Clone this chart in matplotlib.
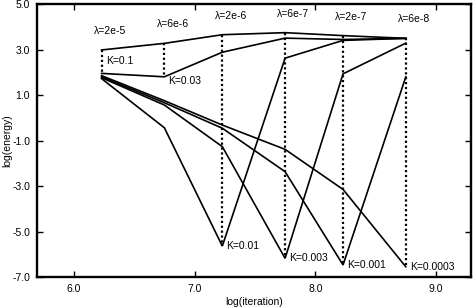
import matplotlib
matplotlib.use('Agg')
import matplotlib.pyplot as plt

# ---- data ----
log_iter = [6.23, 6.75, 7.23, 7.75, 8.23, 8.75]
lambdas = ['2e-5', '6e-6', '2e-6', '6e-7', '2e-7', '6e-8']
k_values = ['0.1', '0.03', '0.01', '0.003', '0.001', '0.0003']
energy_k0_1 = [2.98, 3.27, 3.65, 3.74, 3.61, 3.49]
energy_k0_03 = [1.95, 1.80, 2.88, 3.50, 3.44, 3.49]
energy_k0_01 = [1.72, -0.44, -5.64, 2.62, 3.40, 3.49]
energy_k0_003 = [1.76, 0.56, -1.27, -6.18, 1.93, 3.28]
energy_k0_001 = [1.80, 0.66, -0.46, -2.37, -6.47, 1.80]
energy_k0_0003 = [1.85, 0.75, -0.32, -1.39, -3.15, -6.55]
xticks = [6.0, 7.0, 8.0, 9.0]
yticks = [-7.0, -5.0, -3.0, -1.0, 1.0, 3.0, 5.0]

series = [energy_k0_1, energy_k0_03, energy_k0_01,
          energy_k0_003, energy_k0_001, energy_k0_0003]

plt.rcParams['font.family'] = ['Liberation Sans', 'DejaVu Sans']
plt.rcParams['axes.unicode_minus'] = False

fig = plt.figure(figsize=(4.74, 3.08), dpi=100)
ax = fig.add_axes([37/474, 1-277/308, 434/474, 273/308])

for s in series:
    ax.plot(log_iter, s, color='black', lw=1.2, solid_joinstyle='miter')

# dotted verticals: from the top curve down to the minimum of curve K_i
top = energy_k0_1
bottoms = [energy_k0_03[0]] + [series[i][i] for i in range(1, 6)]
for i in range(6):
    ax.plot([log_iter[i], log_iter[i]], [top[i], bottoms[i]],
            color='black', lw=1.6, ls=(0, (1, 1.2)))
    ax.annotate('\u03bb=' + lambdas[i], (log_iter[i], top[i]),
                xytext=(6, 10), textcoords='offset points',
                ha='center', va='bottom', fontsize=7.5)

# K labels
for i in range(6):
    if i == 0:
        y = (top[0] + bottoms[0]) / 2 + 0.05
        dy = 0
    else:
        y = bottoms[i]
        dy = -3 if i == 1 else 0
    ax.annotate('K=' + k_values[i], (log_iter[i], y), xytext=(3, dy),
                textcoords='offset points', ha='left', va='center', fontsize=7.5)

ax.set_xlim(5.695, 9.29)
ax.set_ylim(-7.0, 5.0)
ax.set_xticks(xticks)
ax.set_yticks(yticks)
ax.set_xticklabels(['%.1f' % v for v in xticks])
ax.set_yticklabels(['%.1f' % v for v in yticks])
ax.tick_params(direction='in', length=4, width=1, top=True, right=True,
               labelsize=7.5, pad=5)
for sp in ax.spines.values():
    sp.set_linewidth(1.7)

ax.set_xlabel('log(iteration)', fontsize=7.5)
ax.xaxis.set_label_coords(0.5, -0.072)
ax.set_ylabel('log(energy)', fontsize=7.5)
ax.yaxis.set_label_coords(-0.056, 0.5)

fig.savefig('out.png', dpi=100)
